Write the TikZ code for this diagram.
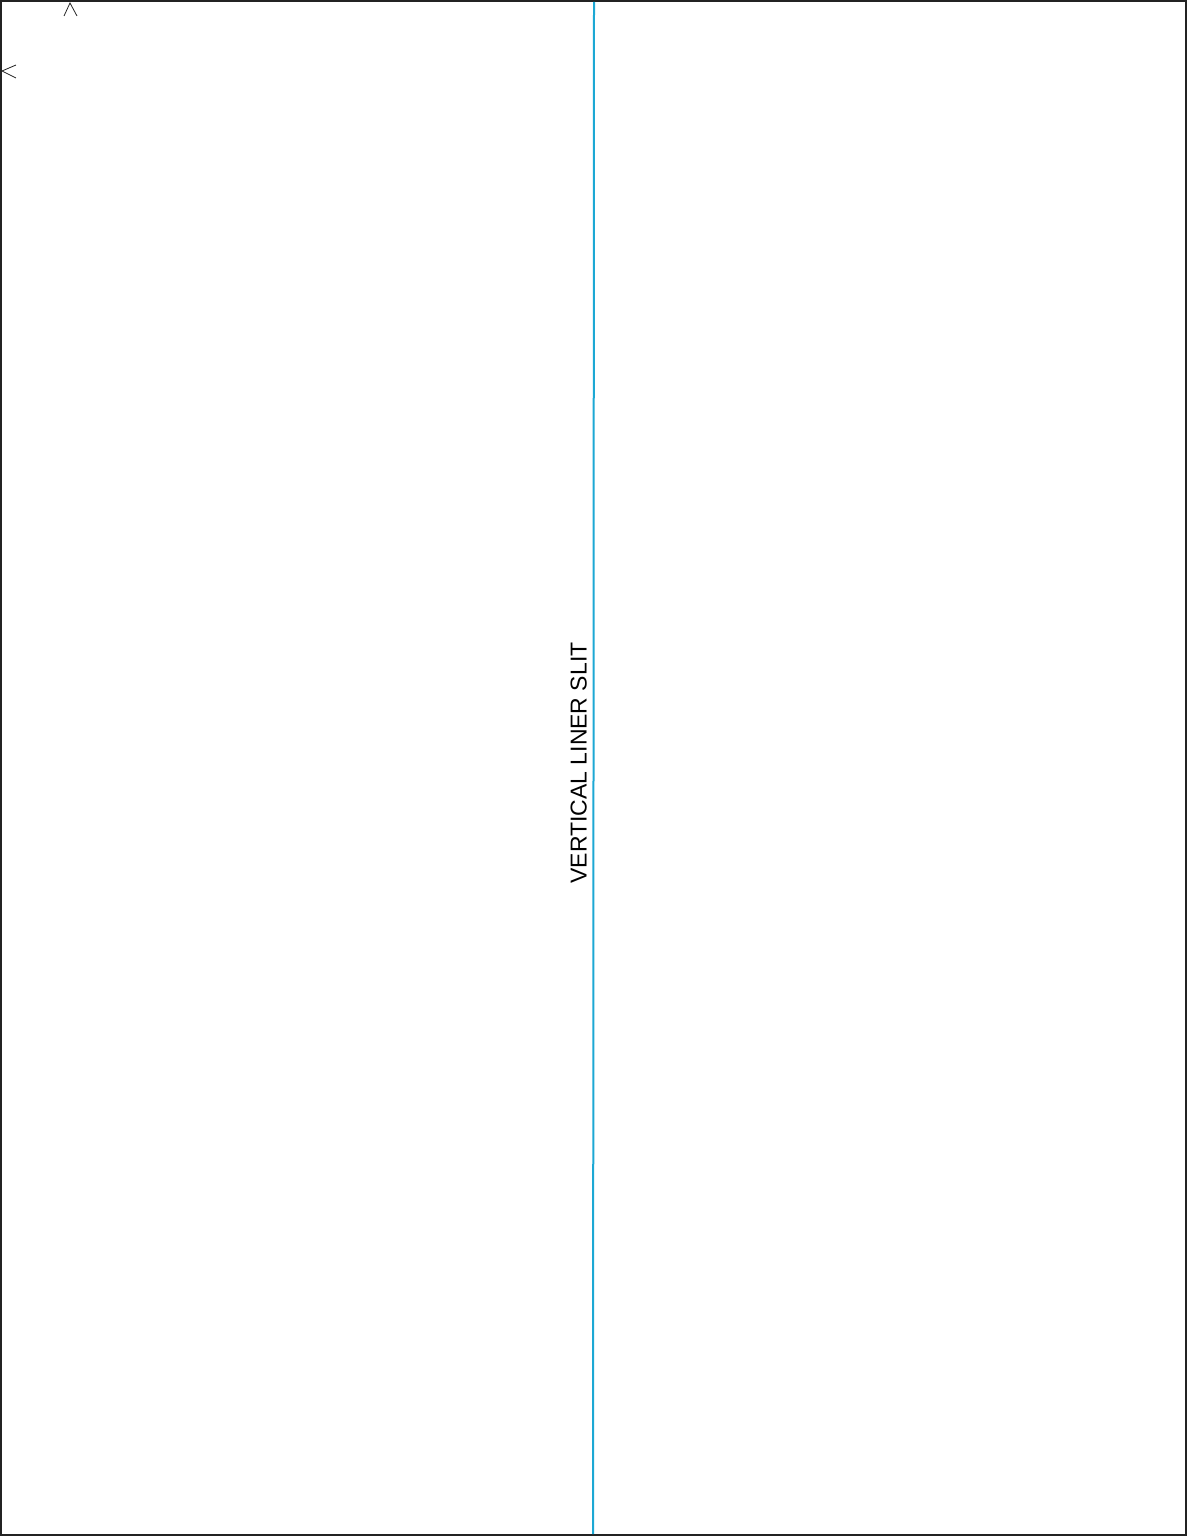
\documentclass[tikz,border=0pt]{standalone}
\usepackage{fontspec}
\setmainfont{Liberation Sans}
\definecolor{slitblue}{RGB}{28,168,212}
\definecolor{framegray}{RGB}{35,35,35}
\begin{document}
\begin{tikzpicture}[x=1bp,y=-1bp,
  frame/.style={draw=framegray,line width=2bp},
  slit/.style={draw=slitblue,line width=2bp},
  chevron/.style={draw=framegray,line width=0.8bp},
  label/.style={font=\fontsize{23bp}{27bp}\selectfont,text=black,inner sep=0pt,rotate=90}]
\useasboundingbox (0,0) rectangle (1187,1536);
\draw[frame] (1,1) rectangle (1186,1535);
\coordinate (slittop) at (594,2);
\coordinate (slitbot) at (593,1534);
\draw[slit] (slittop) -- (slitbot);
\node[label,anchor=south] (txt) at (587,763) {VERTICAL LINER SLIT};
\coordinate (upapex) at (70,3);
\draw[chevron] (64,16) -- (upapex) -- (77,16);
\coordinate (leftapex) at (2,71);
\draw[chevron] (16,65) -- (leftapex) -- (16,78);
\end{tikzpicture}
\end{document}
